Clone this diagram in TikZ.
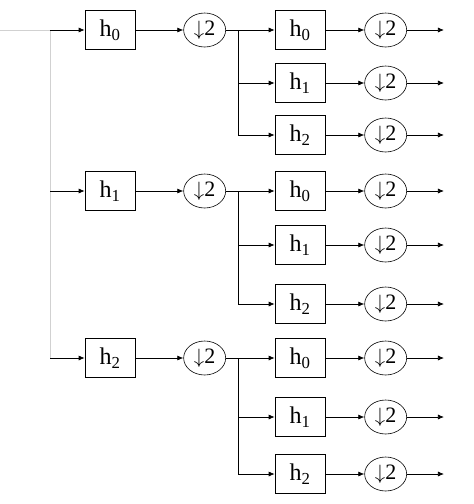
\documentclass[tikz,border=0pt]{standalone}
\usepackage{fontspec}
\setmainfont{Liberation Serif}
\usepackage{tikz}
\usetikzlibrary{arrows.meta,positioning,shapes.geometric}

\begin{document}
\begin{tikzpicture}[
    x=1pt, y=-1pt,
    filt/.style={rectangle, draw=black, line width=0.7pt, minimum width=50pt, minimum height=39pt, inner sep=0pt, font=\fontsize{24}{28}\selectfont},
    down/.style={ellipse, draw=black, line width=0.6pt, minimum width=42pt, minimum height=34pt, inner sep=0pt, font=\fontsize{22}{26}\selectfont},
    feed/.style={draw=black!18, line width=0.7pt},
    wire/.style={line width=0.7pt},
    arrow/.style={-{Latex[length=6pt, width=5pt]}, line width=0.7pt}
]
\useasboundingbox (0,0) rectangle (474,504);

% first stage
\node[filt] (a0) at (110,30) {h\textsubscript{0}};
\node[filt] (a1) at (110,191) {h\textsubscript{1}};
\node[filt] (a2) at (110,358) {h\textsubscript{2}};
\node[down, right=48pt of a0] (d0) {$\downarrow$2};
\node[down, right=48pt of a1] (d1) {$\downarrow$2};
\node[down, right=48pt of a2] (d2) {$\downarrow$2};

\coordinate (in) at (0,30);
\coordinate (split) at (50,30);
\coordinate (split2) at (50,358);
\coordinate (j0) at (238,30);
\coordinate (j1) at (238,191);
\coordinate (j2) at (238,358);

% second stage
\node[filt] (b00) at (300,30) {h\textsubscript{0}};
\node[filt] (b01) at (300,83) {h\textsubscript{1}};
\node[filt] (b02) at (300,135) {h\textsubscript{2}};
\node[filt] (b10) at (300,191) {h\textsubscript{0}};
\node[filt] (b11) at (300,245) {h\textsubscript{1}};
\node[filt] (b12) at (300,304) {h\textsubscript{2}};
\node[filt] (b20) at (300,358) {h\textsubscript{0}};
\node[filt] (b21) at (300,417) {h\textsubscript{1}};
\node[filt] (b22) at (300,474) {h\textsubscript{2}};

\node[down, right=39pt of b00] (e00) {$\downarrow$2};
\node[down, right=39pt of b01] (e01) {$\downarrow$2};
\node[down, right=39pt of b02] (e02) {$\downarrow$2};
\node[down, right=39pt of b10] (e10) {$\downarrow$2};
\node[down, right=39pt of b11] (e11) {$\downarrow$2};
\node[down, right=39pt of b12] (e12) {$\downarrow$2};
\node[down, right=39pt of b20] (e20) {$\downarrow$2};
\node[down, right=39pt of b21] (e21) {$\downarrow$2};
\node[down, right=39pt of b22] (e22) {$\downarrow$2};

\coordinate[right=37pt of e00] (o00);
\coordinate[right=37pt of e01] (o01);
\coordinate[right=37pt of e02] (o02);
\coordinate[right=37pt of e10] (o10);
\coordinate[right=37pt of e11] (o11);
\coordinate[right=37pt of e12] (o12);
\coordinate[right=37pt of e20] (o20);
\coordinate[right=37pt of e21] (o21);
\coordinate[right=37pt of e22] (o22);

% input
\draw[feed] (in) -- (split) -- (split2);
\draw[arrow] (split) -- (a0);
\draw[arrow] (split |- a1) -- (a1);
\draw[arrow] (split2) -- (a2);

\draw[arrow] (a0) -- (d0);
\draw[arrow] (a1) -- (d1);
\draw[arrow] (a2) -- (d2);

\draw[wire] (d0) -- (j0);
\draw[wire] (d1) -- (j1);
\draw[wire] (d2) -- (j2);

\draw[arrow] (j0) -- (b00);
\draw[arrow] (j0) |- (b01);
\draw[arrow] (j0) |- (b02);
\draw[arrow] (j1) -- (b10);
\draw[arrow] (j1) |- (b11);
\draw[arrow] (j1) |- (b12);
\draw[arrow] (j2) -- (b20);
\draw[arrow] (j2) |- (b21);
\draw[arrow] (j2) |- (b22);

\draw[arrow] (b00) -- (e00);
\draw[arrow] (b01) -- (e01);
\draw[arrow] (b02) -- (e02);
\draw[arrow] (b10) -- (e10);
\draw[arrow] (b11) -- (e11);
\draw[arrow] (b12) -- (e12);
\draw[arrow] (b20) -- (e20);
\draw[arrow] (b21) -- (e21);
\draw[arrow] (b22) -- (e22);

\draw[arrow] (e00) -- (o00);
\draw[arrow] (e01) -- (o01);
\draw[arrow] (e02) -- (o02);
\draw[arrow] (e10) -- (o10);
\draw[arrow] (e11) -- (o11);
\draw[arrow] (e12) -- (o12);
\draw[arrow] (e20) -- (o20);
\draw[arrow] (e21) -- (o21);
\draw[arrow] (e22) -- (o22);
\end{tikzpicture}
\end{document}
